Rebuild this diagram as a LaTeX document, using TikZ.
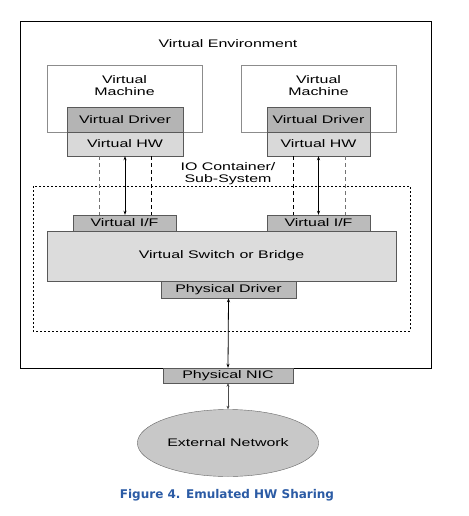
\documentclass[tikz,border=0pt]{standalone}
\usepackage{fontspec}
\setmainfont{Liberation Sans}[FakeStretch=1.45]
\newfontfamily\capfont{DejaVu Sans}
\usetikzlibrary{arrows.meta,shapes.geometric}

\definecolor{drvgray}{HTML}{B4B4B4}
\definecolor{hwgray}{HTML}{D9D9D9}
\definecolor{ifgray}{HTML}{BBBBBB}
\definecolor{swgray}{HTML}{DCDCDC}
\definecolor{netgray}{HTML}{C8C8C8}
\definecolor{capblue}{HTML}{2B5BA5}

\tikzset{
	box/.style={draw=black!65, inner sep=0pt, font=\fontsize{11}{12}\selectfont},
	vmbox/.style={draw=black!45, inner sep=0pt, minimum width=155pt, minimum height=67pt},
	thindash/.style={draw=black!55, dashed, dash pattern=on 4pt off 3pt},
	thickdash/.style={draw=black, thick, dash pattern=on 4pt off 3pt},
	link/.style={thick, {Stealth[length=4pt,width=3pt]}-{Stealth[length=4pt,width=3pt]}}
}

\begin{document}
\begin{tikzpicture}[x=1pt,y=-1pt]

	%Background
	\useasboundingbox[fill=white] (0,0) rectangle (468,516);

	%Frame
	\draw[thick] (20,21) rectangle (431,368);
	\node[font=\fontsize{11}{12}\selectfont] (venv) at (228,44) {Virtual Environment};

	%IO container
	\draw[thick, dash pattern=on 2pt off 2pt] (33,186) rectangle (410,331);
	\node[align=center, font=\fontsize{11}{12}\selectfont] (iotxt) at (228,174) {IO Container/\\Sub-System};

	%Virtual machines
	\node[vmbox] (vmL) at (124.5,98.5) {};
	\node[align=center, font=\fontsize{11}{12}\selectfont] (vmLtxt) at (124.5,85.5) {Virtual\\Machine};
	\node[vmbox] (vmR) at (318.5,98.5) {};
	\node[align=center, font=\fontsize{11}{12}\selectfont] (vmRtxt) at (318.5,85.5) {Virtual\\Machine};

	%Drivers and HW
	\node[box, fill=drvgray, minimum width=116pt, minimum height=25pt] (vdrvL) at (125,119.5) {Virtual Driver};
	\node[box, fill=hwgray, minimum width=116pt, minimum height=24pt] (vhwL) at (125,144) {Virtual HW};
	\node[box, fill=drvgray, minimum width=103pt, minimum height=25pt] (vdrvR) at (318.5,119.5) {Virtual Driver};
	\node[box, fill=hwgray, minimum width=103pt, minimum height=24pt] (vhwR) at (318.5,144) {Virtual HW};

	%Switch
	\node[box, fill=swgray, minimum width=349pt, minimum height=50pt] (vsw) at (221.5,256) {Virtual Switch or Bridge};
	\node[box, fill=ifgray, minimum width=103pt, minimum height=16pt] (vifL) at (124.5,223) {Virtual I/F};
	\node[box, fill=ifgray, minimum width=103pt, minimum height=16pt] (vifR) at (318.5,223) {Virtual I/F};
	\node[box, fill=ifgray, minimum width=135pt, minimum height=17pt] (pdrv) at (228.5,289.5) {Physical Driver};

	%NIC and network
	\node[box, fill=ifgray, minimum width=130pt, minimum height=15pt] (nic) at (228,375.5) {Physical NIC};
	\node[ellipse, draw=black!60, fill=netgray, minimum width=156pt, minimum height=67pt,
		font=\fontsize{11}{12}\selectfont] (extnet) at (228,443) {External Network};

	%Connections
	\draw[thindash] ([xshift=-26pt]vhwL.south) -- ([xshift=-26pt]vhwL.south |- vifL.north);
	\draw[thickdash] ([xshift=26pt]vhwL.south) -- ([xshift=26pt]vhwL.south |- vifL.north);
	\draw[link] (vhwL.south) -- (vhwL.south |- vifL.north);

	\draw[thickdash] ([xshift=-25.5pt]vhwR.south) -- ([xshift=-25.5pt]vhwR.south |- vifR.north);
	\draw[thindash] ([xshift=26.5pt]vhwR.south) -- ([xshift=26.5pt]vhwR.south |- vifR.north);
	\draw[link] (vhwR.south) -- (vhwR.south |- vifR.north);

	\draw[link] (pdrv.south) -- (nic.north);
	\draw[black!70, {Stealth[length=3.5pt,width=3pt]}-{Stealth[length=3.5pt,width=3pt]}] (nic.south) -- (extnet.north);

	%Caption
	\node[text=capblue, font=\capfont\bfseries\fontsize{12}{14}\selectfont] (cap) at (227,495) {Figure 4. Emulated HW Sharing};

\end{tikzpicture}
\end{document}
